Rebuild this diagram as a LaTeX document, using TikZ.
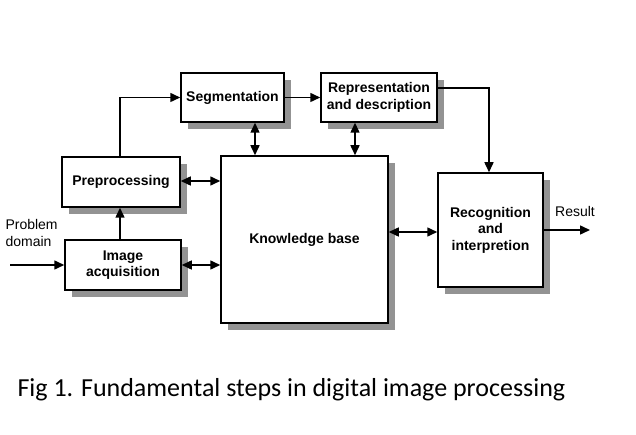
\documentclass[tikz,border=0pt]{standalone}
\usepackage{fontspec}
\setmainfont{Liberation Sans}
\newfontfamily\capfont{Carlito}
\usetikzlibrary{arrows.meta}
\begin{document}
\begin{tikzpicture}[x=1pt,y=-1pt,
  blk/.style={draw,line width=1.5pt,fill=white,font=\bfseries\fontsize{14}{16.5}\selectfont,align=center,inner sep=0pt},
  arr/.style={-{Triangle[length=10pt,width=9pt]},line width=1.5pt},
  darr/.style={{Triangle[length=10pt,width=9pt]}-{Triangle[length=10pt,width=9pt]},line width=1.5pt}]
\useasboundingbox (0,0) rectangle (636,435);
\newcommand{\myblk}[6]{% name x1 y1 x2 y2 text
  \fill[gray!85] (#2+7,#3+7) rectangle (#4+7,#5+7);
  \node[blk,minimum width=#4-#2,minimum height=#5-#3] (#1) at ({(#2+#4)/2},{(#3+#5)/2}) {#6};}
\myblk{seg}{181}{73}{284}{122}{Segmentation}
\myblk{rep}{321}{73}{437}{122}{Representation\\and description}
\myblk{pre}{62}{157}{180}{207}{Preprocessing}
\myblk{acq}{65}{240}{181}{290}{Image\\acquisition}
\myblk{kb}{221}{156}{388}{323}{Knowledge base}
\myblk{rec}{438}{173}{543}{287}{Recognition\\and\\interpretion}
\node[font=\fontsize{14}{16.5}\selectfont,align=left,anchor=west] (pd) at (2,233) {Problem\\domain};
\coordinate (in) at (10,265);
\draw[arr] (in) -- (acq.west |- in);
\draw[arr] (acq.north -| 120,0) -- (pre.south -| 120,0);
\draw[arr] (pre.north -| 120,0) |- (seg.west);
\draw[arr] (seg.east) -- (rep.west |- seg.east);
\draw[arr] (rep.east |- 0,88) -| (rec.north -| 489,0);
\draw[darr] (seg.south -| 255,0) -- (kb.north -| 255,0);
\draw[darr] (rep.south -| 355,0) -- (kb.north -| 355,0);
\draw[darr] (pre.east |- 0,181) -- (kb.west |- 0,181);
\draw[darr] (acq.east |- 0,265) -- (kb.west |- 0,265);
\draw[darr] (kb.east |- 0,232) -- (rec.west |- 0,232);
\coordinate (out) at (590,230);
\draw[arr] (rec.east |- out) -- (out);
\node[font=\fontsize{14}{16.5}\selectfont] (res) at (575,211) {Result};
\node[font=\capfont\fontsize{26}{30}\selectfont,anchor=west] (cap) at (14,390) {Fig 1. Fundamental steps in digital image processing};
\end{tikzpicture}
\end{document}
